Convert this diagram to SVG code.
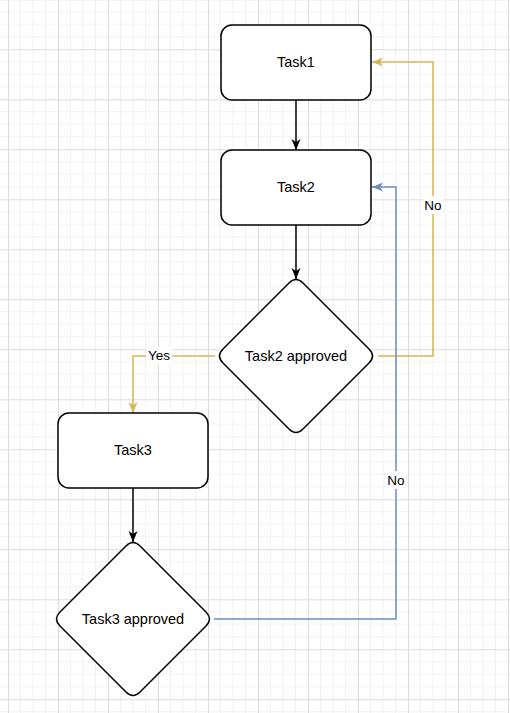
<svg xmlns="http://www.w3.org/2000/svg" width="510" height="713" viewBox="0 0 510 713">
<style>
.node{fill:#fff;stroke:#000;stroke-width:1.5}
.lbl{font-family:"Liberation Sans",Arial,sans-serif;font-size:14.5px;fill:#000;text-anchor:middle;dominant-baseline:central}
.elbl{font-family:"Liberation Sans",Arial,sans-serif;font-size:13.5px;fill:#000;text-anchor:middle;dominant-baseline:central}
.edge{fill:none;stroke-width:1.5}
</style>
<defs>
<pattern id="grid" patternUnits="userSpaceOnUse" x="8" y="-0.7" width="50" height="50">
<path d="M12.5,0V50M25,0V50M37.5,0V50M0,12.5H50M0,25H50M0,37.5H50" stroke="#f2f2f2" stroke-width="1" fill="none"/>
<path d="M0.5,0V50M0,0.5H50" stroke="#dcdcdc" stroke-width="1" fill="none"/>
</pattern>
<marker id="aK" markerUnits="userSpaceOnUse" viewBox="0 0 11 10" refX="11" refY="5" markerWidth="11" markerHeight="10" orient="auto"><path d="M0,0.5L11,5L0,9.5L3,5Z" fill="#000"/></marker>
<marker id="aY" markerUnits="userSpaceOnUse" viewBox="0 0 11 10" refX="11" refY="5" markerWidth="11" markerHeight="10" orient="auto"><path d="M0,0.5L11,5L0,9.5L3,5Z" fill="#d6b656"/></marker>
<marker id="aB" markerUnits="userSpaceOnUse" viewBox="0 0 11 10" refX="11" refY="5" markerWidth="11" markerHeight="10" orient="auto"><path d="M0,0.5L11,5L0,9.5L3,5Z" fill="#6c8ebf"/></marker>
</defs>
<rect x="0" y="0" width="510" height="713" fill="#fff"/>
<rect x="0" y="0" width="510" height="713" fill="url(#grid)"/>
<g id="connectors">
<path class="edge" stroke="#000" d="M296,100L296,150" marker-end="url(#aK)"/>
<path class="edge" stroke="#000" d="M296,225L296,279" marker-end="url(#aK)"/>
<path class="edge" stroke="#d6b656" d="M378,356L433,356L433,62L372,62" marker-end="url(#aY)"/>
<path class="edge" stroke="#d6b656" d="M215,356L133,356L133,413" marker-end="url(#aY)"/>
<path class="edge" stroke="#000" d="M133,488L133,542" marker-end="url(#aK)"/>
<path class="edge" stroke="#6c8ebf" d="M214,619L396,619L396,187L372,187" marker-end="url(#aB)"/>
<rect x="423" y="196" width="20" height="18" fill="#fff"/>
<text class="elbl" x="433" y="205">No</text>
<rect x="146" y="347" width="26" height="17" fill="#fff"/>
<text class="elbl" x="159" y="355">Yes</text>
<rect x="386" y="471" width="20" height="18" fill="#fff"/>
<text class="elbl" x="396" y="480">No</text>
</g>
<g id="task1">
<rect class="node" x="221" y="25" width="150" height="75" rx="11" ry="11"/>
<text class="lbl" x="296" y="62">Task1</text>
</g>
<g id="task2">
<rect class="node" x="221" y="150" width="150" height="75" rx="11" ry="11"/>
<text class="lbl" x="296" y="187">Task2</text>
</g>
<g id="task2approved">
<path class="node" d="M289,283Q296,276 303,283L369,349Q376,356 369,363L303,429Q296,436 289,429L223,363Q216,356 223,349Z"/>
<text class="lbl" x="296" y="356">Task2 approved</text>
</g>
<g id="task3">
<rect class="node" x="58" y="413" width="150" height="75" rx="11" ry="11"/>
<text class="lbl" x="133" y="450">Task3</text>
</g>
<g id="task3approved">
<path class="node" d="M126,546Q133,539 140,546L206,612Q213,619 206,626L140,692Q133,699 126,692L60,626Q53,619 60,612Z"/>
<text class="lbl" x="133" y="619">Task3 approved</text>
</g>
</svg>
